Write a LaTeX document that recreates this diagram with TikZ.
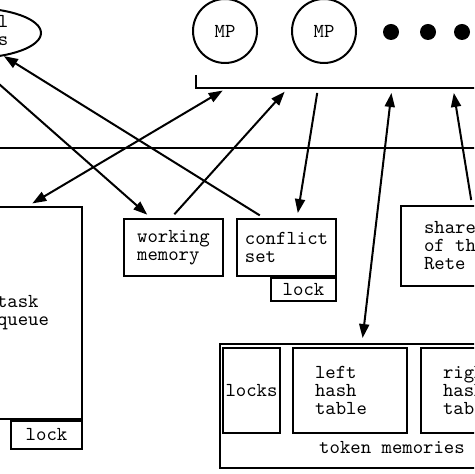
\documentclass[tikz,border=0pt]{standalone}
\usepackage{fontspec}
\usetikzlibrary{positioning,arrows.meta,shapes.geometric}

\begin{document}
\begin{tikzpicture}[x=0.5pt,y=-0.5pt,line width=1pt,font=\ttfamily\fontsize{9.9}{9}\selectfont]
   \tikzstyle{flow} = [line width=1pt,>={Triangle[length=7pt,width=5pt]},shorten >=2.5pt,shorten <=2.5pt]
   \tikzset{pbox/.style = {rectangle, draw, align=left, inner sep=0pt}, }
   \tikzset{mp/.style = {circle, draw, minimum size=32pt, inner sep=0pt}, }
   \tikzset{more/.style = {circle, fill, minimum size=8pt, inner sep=0pt} }
   \tikzset{hash/.style = {pbox, text width=35pt, inner xsep=11pt, minimum height=42.5pt} }

   \fill[white] (0,0) rectangle (474,474);
   \useasboundingbox (0,0) rectangle (474,474);
   \clip (0,0) rectangle (474,474);

   % processors and bus
   \node[ellipse, draw, minimum width=69pt, minimum height=25pt, inner sep=0pt, align=center] (ctl) at (-28,33) {control\\process};
   \node[mp] (mp1) at (225,31) {MP};
   \node[mp] (mp2) at (324,31) {MP};
   \node[more] (dot1) at (391,32) {};
   \node[more] (dot2) at (428,32) {};
   \node[more] (dot3) at (462,32) {};
   \draw (196,75) -- (196,88) -- (490,88);
   \coordinate (bus1) at (227,88);
   \coordinate (bus2) at (288,88);
   \coordinate (bus3) at (318,88);
   \coordinate (bus4) at (392,88);
   \coordinate (bus5) at (453,88);
   \draw (-10,148) -- (490,148);

   % shared memory
   \node[pbox, minimum width=59pt, minimum height=106pt] (queue) at (23,313) {task\\queue};
   \node[pbox, minimum width=35.5pt, minimum height=14pt, anchor=north east] (qlock) at (queue.south east) {lock};
   \node[pbox, minimum width=49.5pt, minimum height=28.5pt] (wm) at (173.5,247.5) {working\\memory};
   \node[pbox, minimum width=49.5pt, minimum height=28.5pt] (cs) at (286.5,247.5) {conflict\\set};
   \node[pbox, minimum width=32.5pt, minimum height=11.5pt, anchor=north east] (cslock) at (cs.south east) {lock};
   \node[pbox, anchor=north west, minimum height=40pt, inner xsep=11.5pt] (rete) at (400,205) {shared part\\of the\\Rete};

   % token memories
   \node[pbox, anchor=north west, minimum width=173pt, minimum height=62pt] (tokmem) at (219,343) {};
   \node (tokmemtxt) at (392,448) {token memories};
   \node[pbox, minimum width=28.5pt, minimum height=42.5pt] (locks) at (251.5,390.5) {locks};
   \node[hash] (lefth) at (350,390.5) {left\\hash\\table};
   \node[hash] (righth) at (478,390.5) {right\\hash\\table};

   % connections
   \draw[flow,->] (ctl.267) -- ([xshift=14pt]wm.north west);
   \draw[flow,->,shorten >=0pt] ([xshift=14pt]cs.north west) -- (ctl.324);
   \draw[flow,<->] ([xshift=2.5pt]queue.north) -- (bus1);
   \draw[flow,->] ([xshift=24pt]wm.north west) -- (bus2);
   \draw[flow,->] (bus3) -- ([xshift=30.5pt]cs.north west);
   \draw[flow,<->] (bus4) -- ([xshift=71.5pt]tokmem.north west);
   \draw[flow,->] ([xshift=36pt]rete.north west) -- (bus5);
\end{tikzpicture}
\end{document}
